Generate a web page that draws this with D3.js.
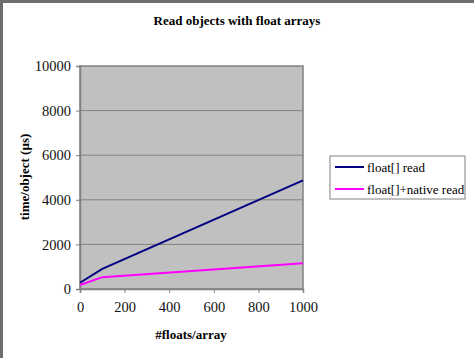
<!DOCTYPE html>
<html><head><meta charset="utf-8">
<script src="https://cdn.jsdelivr.net/npm/d3@7"></script>
<style>body{margin:0;background:#fff}svg{display:block}text{font-family:"Liberation Serif","Times New Roman",serif}</style>
</head><body>
<script>
const xValues = [0, 100, 1000];
const readValues = [280, 900, 4870];
const nativeValues = [180, 530, 1150];
const seriesNames = ["float[] read", "float[]+native read"];
const xTicks = [0, 200, 400, 600, 800, 1000];
const yTicks = [0, 2000, 4000, 6000, 8000, 10000];

const W = 474, H = 361;
const svg = d3.select("body").append("svg").attr("width", W).attr("height", H);
svg.append("rect").attr("x",0).attr("y",0).attr("width",W).attr("height",3).attr("fill","#6e6e6e");
svg.append("rect").attr("x",0).attr("y",0).attr("width",3).attr("height",358).attr("fill","#6e6e6e");

const x = d3.scaleLinear().domain([0,1000]).range([80,303]);
const y = d3.scaleLinear().domain([0,10000]).range([289,66]);

svg.append("rect").attr("x",80).attr("y",66).attr("width",223).attr("height",223)
  .attr("fill","#c0c0c0").attr("stroke","#808080").attr("stroke-width",1.5);

svg.append("g").selectAll("line").data(yTicks.slice(1,-1)).join("line")
  .attr("x1",80).attr("x2",303).attr("y1",d=>y(d)).attr("y2",d=>y(d))
  .attr("stroke","#808080").attr("stroke-width",1);

const yAxis = svg.append("g").attr("transform","translate(80,0)")
  .call(d3.axisLeft(y).tickValues(yTicks).tickSize(4).tickPadding(5).tickFormat(d3.format("d")));
const xAxis = svg.append("g").attr("transform","translate(0,289)")
  .call(d3.axisBottom(x).tickValues(xTicks).tickSize(4).tickPadding(9).tickFormat(d3.format("d")));
[yAxis,xAxis].forEach(a=>{
  a.select(".domain").attr("stroke","#808080").attr("stroke-width",1.5);
  a.selectAll(".tick line").attr("stroke","#808080");
  a.selectAll("text").attr("font-size",14.5).attr("fill","#111").attr("font-family","Liberation Serif, serif");
});

const line = d3.line().x((d,i)=>x(xValues[i])).y(d=>y(d));
svg.append("path").datum(readValues).attr("d",line).attr("fill","none").attr("stroke","#000080").attr("stroke-width",2);
svg.append("path").datum(nativeValues).attr("d",line).attr("fill","none").attr("stroke","#ff00ff").attr("stroke-width",2);

svg.append("text").attr("x",237).attr("y",25).attr("text-anchor","middle")
  .attr("font-size",13).attr("font-weight","bold").text("Read objects with float arrays");
svg.append("text").attr("x",191).attr("y",339).attr("text-anchor","middle")
  .attr("font-size",13).attr("font-weight","bold").text("#floats/array");
svg.append("text").attr("transform","translate(29,177) rotate(-90)").attr("text-anchor","middle")
  .attr("font-size",13).attr("font-weight","bold").text("time/object (µs)");

const lg = svg.append("g");
lg.append("rect").attr("x",330).attr("y",156).attr("width",135).attr("height",43)
  .attr("fill","#fff").attr("stroke","#808080").attr("stroke-width",1);
const colors = ["#000080","#ff00ff"];
seriesNames.forEach((n,i)=>{
  const yy = 167 + i*22;
  lg.append("line").attr("x1",335).attr("x2",364).attr("y1",yy).attr("y2",yy).attr("stroke",colors[i]).attr("stroke-width",2);
  lg.append("text").attr("x",367).attr("y",yy+4.5).attr("font-size",13).text(n);
});
</script>
</body></html>
